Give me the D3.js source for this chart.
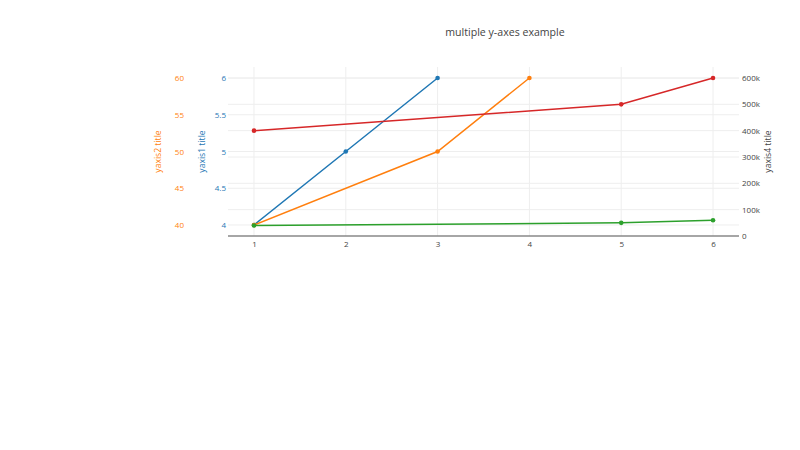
<!DOCTYPE html>
<html>
<head>
<meta charset="utf-8">
<script src="https://cdn.jsdelivr.net/npm/d3@7"></script>
<style>
  body { margin: 0; background: #fff; }
  text { font-family: "Open Sans", sans-serif; }
</style>
</head>
<body>
<div id="chart"></div>
<script>
// series data
const xTrace1 = [1, 2, 3];
const yTrace1 = [4, 5, 6];
const xTrace2 = [1, 3, 4];
const yTrace2 = [40, 50, 60];
const xTrace3 = [1, 5, 6];
const yTrace3 = [40000, 50000, 60000];
const xTrace4 = [1, 5, 6];
const yTrace4 = [400000, 500000, 600000];

const xTicks = [1, 2, 3, 4, 5, 6];
const y1Ticks = [4, 4.5, 5, 5.5, 6];
const y2Ticks = [40, 45, 50, 55, 60];
const y4Ticks = [0, 100000, 200000, 300000, 400000, 500000, 600000];

const width = 800;
const height = 450;
const plot = { left: 228, right: 739, top: 67, bottom: 236 };

const svg = d3.select('#chart')
    .append('svg')
    .attr('width', width)
    .attr('height', height);

// scales
const x = d3.scaleLinear().domain([0.717, 6.283]).range([plot.left, plot.right]);
const y1 = d3.scaleLinear().domain([3.85, 6.15]).range([plot.bottom, plot.top]);
const y2 = d3.scaleLinear().domain([38.5, 61.5]).range([plot.bottom, plot.top]);
const y4 = d3.scaleLinear().domain([0, 641800]).range([plot.bottom, plot.top]);

const grid = svg.append('g').attr('stroke', '#eee').attr('stroke-width', 1);

// vertical grid
grid.selectAll('line.gx')
    .data(xTicks)
    .join('line')
    .attr('class', 'gx')
    .attr('x1', d => x(d)).attr('x2', d => x(d))
    .attr('y1', plot.top).attr('y2', plot.bottom);

// horizontal grids for y1 / y2 / y4
grid.selectAll('line.gy1')
    .data(y1Ticks)
    .join('line')
    .attr('class', 'gy1')
    .attr('x1', plot.left).attr('x2', plot.right)
    .attr('y1', d => y1(d)).attr('y2', d => y1(d));

grid.selectAll('line.gy4')
    .data(y4Ticks.slice(1))
    .join('line')
    .attr('class', 'gy4')
    .attr('x1', plot.left).attr('x2', plot.right)
    .attr('y1', d => y4(d)).attr('y2', d => y4(d));

// zero line of yaxis4
svg.append('line')
    .attr('x1', plot.left).attr('x2', plot.right)
    .attr('y1', y4(0)).attr('y2', y4(0))
    .attr('stroke', '#888')
    .attr('stroke-width', 1.3);

// x axis tick labels
const xAxis = svg.append('g')
    .attr('transform', `translate(0, ${plot.bottom})`)
    .call(d3.axisBottom(x).tickValues(xTicks).tickSize(0).tickPadding(5).tickFormat(d3.format('d')));
xAxis.select('.domain').remove();
xAxis.selectAll('text').attr('fill', '#444').attr('font-size', 8);

// yaxis1 (blue)
const y1Axis = svg.append('g')
    .attr('transform', `translate(${plot.left - 2}, 0)`)
    .call(d3.axisLeft(y1).tickValues(y1Ticks).tickSize(0).tickPadding(0).tickFormat(d3.format('')));
y1Axis.select('.domain').remove();
y1Axis.selectAll('text').attr('fill', '#1f77b4').attr('font-size', 8);

// yaxis2 (orange), free position
const y2Axis = svg.append('g')
    .attr('transform', 'translate(184, 0)')
    .call(d3.axisLeft(y2).tickValues(y2Ticks).tickSize(0).tickPadding(0));
y2Axis.select('.domain').remove();
y2Axis.selectAll('text').attr('fill', '#ff7f0e').attr('font-size', 8);

// yaxis4 (right)
const y4Axis = svg.append('g')
    .attr('transform', `translate(${plot.right + 3}, 0)`)
    .call(d3.axisRight(y4).tickValues(y4Ticks).tickSize(0).tickPadding(0)
        .tickFormat(d => d === 0 ? '0' : (d / 1000) + 'k'));
y4Axis.select('.domain').remove();
y4Axis.selectAll('text').attr('fill', '#444').attr('font-size', 8);

// axis titles
const midY = (plot.top + plot.bottom) / 2;
function axisTitle(cx, label, color) {
    svg.append('text')
        .attr('transform', `translate(${cx}, ${midY}) rotate(-90)`)
        .attr('text-anchor', 'middle')
        .attr('dy', '0.35em')
        .attr('font-size', 8.6)
        .attr('fill', color)
        .text(label);
}
axisTitle(158, 'yaxis2 title', '#ff7f0e');
axisTitle(202, 'yaxis1 title', '#1f77b4');
axisTitle(768, 'yaxis4 title', '#444');

// chart title
svg.append('text')
    .attr('x', 505)
    .attr('y', 36)
    .attr('text-anchor', 'middle')
    .attr('font-size', 10.6)
    .attr('fill', '#444')
    .text('multiple y-axes example');

// traces
const traces = [
    { xs: xTrace1, ys: yTrace1, scale: y1, color: '#1f77b4' },
    { xs: xTrace2, ys: yTrace2, scale: y2, color: '#ff7f0e' },
    { xs: xTrace3, ys: yTrace3, scale: y4, color: '#2ca02c' },
    { xs: xTrace4, ys: yTrace4, scale: y4, color: '#d62728' }
];

traces.forEach(t => {
    const pts = t.xs.map((v, i) => [v, t.ys[i]]);
    const line = d3.line()
        .x(d => x(d[0]))
        .y(d => t.scale(d[1]));
    const g = svg.append('g');
    g.append('path')
        .datum(pts)
        .attr('d', line)
        .attr('fill', 'none')
        .attr('stroke', t.color)
        .attr('stroke-width', 1.5);
    g.selectAll('circle')
        .data(pts)
        .join('circle')
        .attr('cx', d => x(d[0]))
        .attr('cy', d => t.scale(d[1]))
        .attr('r', 2.3)
        .attr('fill', t.color);
});
</script>
</body>
</html>
